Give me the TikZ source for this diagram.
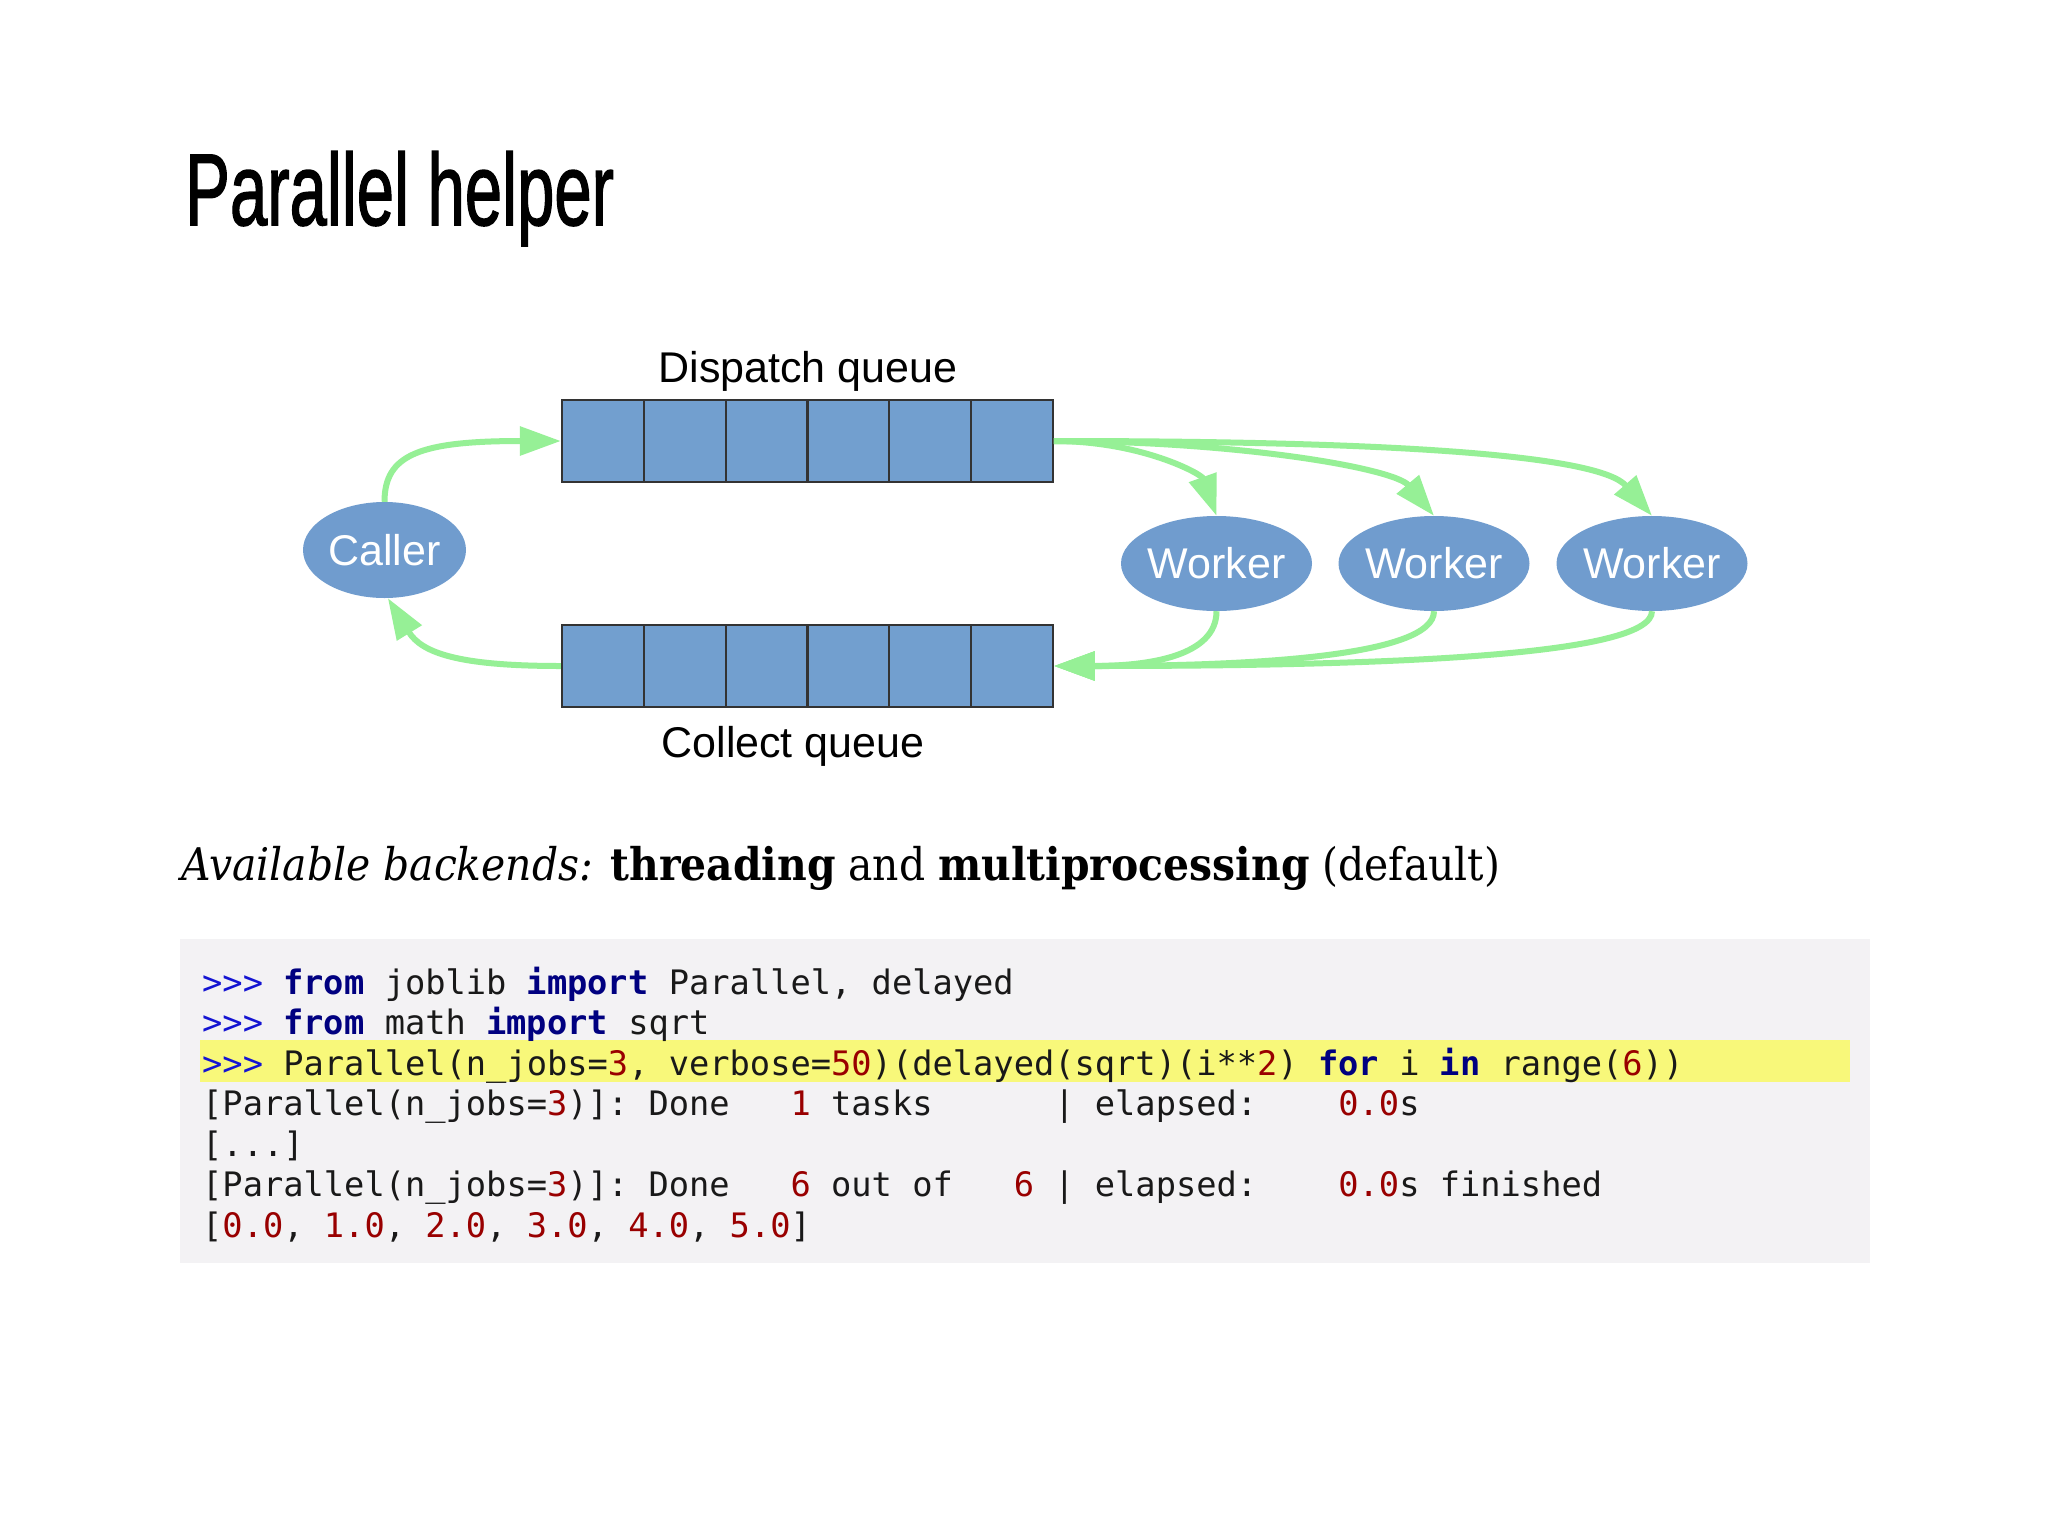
\documentclass[tikz,border=0pt]{standalone}
\usepackage{fontspec}
\usepackage{graphicx}
\setmainfont{DejaVu Serif}
\newfontfamily\diagfont{Liberation Sans}
\newfontfamily\titlefont[FakeBold=1.6]{Liberation Sans}
\newfontfamily\codefont{DejaVu Sans Mono}
\usetikzlibrary{arrows.meta,shapes.geometric}
\definecolor{qblue}{RGB}{114,159,207}
\definecolor{eblue}{RGB}{112,156,206}
\definecolor{qline}{RGB}{51,51,51}
\definecolor{flowgreen}{RGB}{150,240,150}
\definecolor{codebg}{RGB}{243,242,244}
\definecolor{hlyellow}{RGB}{248,248,122}
\definecolor{promptblue}{RGB}{20,20,210}
\definecolor{kwnavy}{RGB}{0,0,128}
\definecolor{numred}{RGB}{153,0,0}
\definecolor{codetxt}{RGB}{25,25,25}
\newcommand\pp{\textcolor{promptblue}{>{}>{}>}}
\newcommand\kw[1]{\textcolor{kwnavy}{\bfseries #1}}
\newcommand\nm[1]{\textcolor{numred}{#1}}
\begin{document}
\begin{tikzpicture}[x=1pt,y=-1pt,
  cell/.style={draw=qline, fill=qblue, line width=2.2pt, minimum width=81.8pt, minimum height=82pt, inner sep=0pt},
  ell/.style={ellipse, fill=eblue, inner sep=0pt, text=white, font=\diagfont\fontsize{43}{50}\selectfont},
  lbl/.style={anchor=base, inner sep=0pt, font=\diagfont\fontsize{43}{50}\selectfont},
  flow/.style={draw=flowgreen, line width=6pt, -{Triangle[length=41pt,width=28pt]}},
  codeline/.style={anchor=base west, inner sep=0pt, text=codetxt, font=\codefont\fontsize{33.7}{40}\selectfont\frenchspacing},
]
\fill[white] (0,0) rectangle (2048,1537);
\useasboundingbox (0,0) rectangle (2048,1537);

% title
\node[anchor=base west, inner sep=0pt] (title) at (185,225)
  {\titlefont\fontsize{102}{110}\selectfont\resizebox{429pt}{\height}{Parallel helper}};

% queues
\foreach \i in {1,...,6} {
  \node[cell] (d\i) at ({562+81.8*(\i-0.5)},441) {};
  \node[cell] (c\i) at ({562+81.8*(\i-0.5)},666) {};
}
\node[lbl] (dlabel) at (808,382) {Dispatch queue};
\node[lbl] (clabel) at (793,757) {Collect queue};

% caller and workers
\node[ell, minimum width=163pt, minimum height=96pt] (caller) at (384.5,550) {\makebox[0pt]{Caller}};
\node[ell, minimum width=191pt, minimum height=95pt] (w1) at (1216.5,563.5) {\makebox[0pt]{Worker}};
\node[ell, minimum width=191pt, minimum height=95pt] (w2) at (1434,563.5) {\makebox[0pt]{Worker}};
\node[ell, minimum width=191pt, minimum height=95pt] (w3) at (1652,563.5) {\makebox[0pt]{Worker}};

% connectors
\draw[flow] (caller.north) .. controls +(0,-47) and +(-142,0) .. (d1.west);
\draw[flow] (c1.west) .. controls +(-102,0) and +(34,55) .. (caller.-86);
\draw[flow] (d6.east) .. controls +(87,0) and +(-15,-42) .. (w1.north);
\draw[flow] (d6.east) .. controls +(180,0) and +(-40,-48) .. (w2.north);
\draw[flow] (d6.east) .. controls +(350,0) and +(-52,-60) .. (w3.north);
\draw[flow] (w1.south) .. controls +(0,45) and +(95,0) .. (c6.east);
\draw[flow] (w2.south) .. controls +(0,45) and +(200,0) .. (c6.east);
\draw[flow] (w3.south) .. controls +(0,45) and +(330,0) .. (c6.east);

% backends line
\node[anchor=base west, inner sep=0pt] (avail) at (181,880)
  {\resizebox{1319pt}{\height}{\fontsize{45}{50}\selectfont\textit{Available backends:} \textbf{threading} and \textbf{multiprocessing} (default)}};

% code block
\fill[codebg] (180,939) rectangle (1870,1263);
\fill[hlyellow] (200,1040) rectangle (1850,1082);
\node[codeline] (code1) at (202,994) {\pp\ \kw{from} joblib \kw{import} Parallel, delayed};
\node[codeline] (code2) at (202,1034.5) {\pp\ \kw{from} math \kw{import} sqrt};
\node[codeline] (code3) at (202,1075) {\pp\ Parallel(n\_jobs=\nm{3}, verbose=\nm{50})(delayed(sqrt)(i**\nm{2}) \kw{for} i \kw{in} range(\nm{6}))};
\node[codeline] (code4) at (202,1115.5) {[Parallel(n\_jobs=\nm{3})]: Done\ \ \ \nm{1} tasks\ \ \ \ \ \ | elapsed:\ \ \ \ \nm{0.0}s};
\node[codeline] (code5) at (202,1156) {[...]};
\node[codeline] (code6) at (202,1196.5) {[Parallel(n\_jobs=\nm{3})]: Done\ \ \ \nm{6} out of\ \ \ \nm{6} | elapsed:\ \ \ \ \nm{0.0}s finished};
\node[codeline] (code7) at (202,1237) {[\nm{0.0}, \nm{1.0}, \nm{2.0}, \nm{3.0}, \nm{4.0}, \nm{5.0}]};
\end{tikzpicture}
\end{document}
